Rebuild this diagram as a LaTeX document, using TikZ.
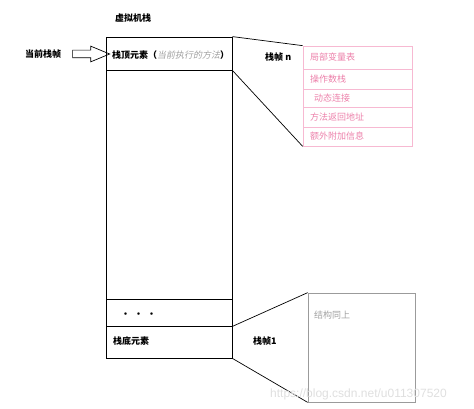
\documentclass[tikz,border=0pt]{standalone}
\usepackage{fontspec}
\setmainfont{Noto Sans CJK SC}[AutoFakeSlant=0.2]
\newfontfamily\markfont{Liberation Sans}
\usetikzlibrary{positioning, shapes.arrows}

\definecolor{pinkline}{RGB}{247,185,210}
\definecolor{pinktext}{RGB}{236,128,170}
\definecolor{greyline}{RGB}{155,155,155}
\definecolor{greytext}{RGB}{160,160,160}

\begin{document}
\begin{tikzpicture}[x=1pt, y=-1pt,
    every node/.style={font=\fontsize{9}{11}\selectfont},
    stackrow/.style={draw, line width=0.8pt, minimum width=126pt, inner sep=0pt},
    framerow/.style={draw=pinkline, line width=0.7pt, minimum width=109pt, inner xsep=7pt, inner ysep=0pt,
        text width=95pt, align=left, text=pinktext},
    tag/.style={inner sep=0pt, anchor=west, font=\fontsize{9}{11}\selectfont\bfseries}]

    \useasboundingbox (0,0) rectangle (474,409);

    % the stack
    \node[tag] (title) at (115, 18) {虚拟机栈};
    \node[stackrow, minimum height=33pt] (top) at (169, 53.5) {};
    \node[stackrow, minimum height=229pt] (middle) at (169, 184.5) {};
    \node[stackrow, minimum height=27pt] (dots) at (169, 312.5) {};
    \node[stackrow, minimum height=32pt] (bottom) at (169, 342) {};

    \node[tag] (toplabel) at (112, 55) {栈顶元素（\textcolor{greytext}{\mdseries\itshape 当前执行的方法}）};
    \node[tag] (ellipsis) at (121, 315) {•\hspace{4pt}•\hspace{4pt}•};
    \node[tag] (bottomlabel) at (113, 341) {栈底元素};

    % current frame pointer
    \node[tag] (current) at (25, 54) {当前栈帧};
    \node[draw, line width=0.7pt, single arrow, minimum height=37pt, minimum width=0pt, inner sep=3.5pt,
        single arrow head extend=4pt, single arrow tip angle=45] (pointer) at (86.5, 54) {};

    % frame n
    \node[tag] (framen) at (265, 57) {栈帧 n};
    \node[framerow, minimum height=23pt] (localvars) at (357.5, 57.5) {局部变量表};
    \node[framerow, minimum height=20pt] (operands) at (357.5, 79) {操作数栈};
    \node[framerow, minimum height=18pt] (dynlink) at (357.5, 98) {\hspace{4pt}动态连接};
    \node[framerow, minimum height=20pt] (retaddr) at (357.5, 117) {方法返回地址};
    \node[framerow, minimum height=19pt] (extrainfo) at (357.5, 136.5) {额外附加信息};

    \draw[line width=0.7pt] (top.north east) -- (localvars.north west);
    \draw[line width=0.7pt] (top.south east) -- (extrainfo.south west);

    % frame 1
    \node[tag] (frameone) at (253, 341) {栈帧1};
    \node[draw=greyline, line width=0.7pt, minimum width=107pt, minimum height=109pt, inner sep=0pt] (frameonebox) at (361.5, 347.5) {};
    \node[tag, font=\fontsize{9}{11}\selectfont, text=greytext] (same) at (314, 315) {结构同上};

    \draw[line width=0.7pt] (dots.south east) -- (frameonebox.north west);
    \draw[line width=0.7pt] (bottom.south east) -- (frameonebox.south west);

    \node[tag, font=\markfont\fontsize{12}{12}\selectfont, text=gray!25] (watermark) at (270, 394) {https://blog.csdn.net/u011307520};

\end{tikzpicture}
\end{document}
